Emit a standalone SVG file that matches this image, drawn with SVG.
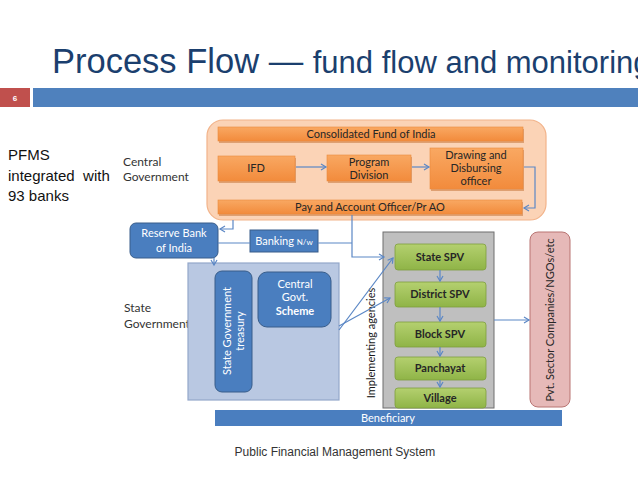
<svg xmlns="http://www.w3.org/2000/svg" width="638" height="478" viewBox="0 0 638 478">
<defs>
<linearGradient id="gOr" x1="0" y1="0" x2="0" y2="1"><stop offset="0" stop-color="#F9A862"/><stop offset="1" stop-color="#F28B3C"/></linearGradient>
<linearGradient id="gGr" x1="0" y1="0" x2="0" y2="1"><stop offset="0" stop-color="#B4D06F"/><stop offset="1" stop-color="#8FB447"/></linearGradient>
<marker id="arr" markerWidth="8" markerHeight="8" refX="6" refY="4" orient="auto" markerUnits="userSpaceOnUse"><path d="M1,1 L6,4 L1,7" fill="none" stroke="#5B87C5" stroke-width="1.2"/></marker>
<style>
.t{font-family:Lato,"Noto Sans",sans-serif;}
.dk{fill:#262626;font-size:11px;}
.wh{fill:#ffffff;font-size:11px;}
.or{fill:url(#gOr);stroke:#E98A3C;stroke-width:0.6;}
.orsh{fill:#C6773A;opacity:0.55;}
.bl{fill:#4A7EBF;stroke:#385D8A;stroke-width:1;}
.gr{fill:url(#gGr);stroke:#7F9F3E;stroke-width:0.8;}
.cn{fill:none;stroke:#5B87C5;stroke-width:1.2;}
.lbl{font-family:Lato,"Noto Sans",sans-serif;font-size:12px;fill:#333333;}
</style>
</defs>
<rect width="638" height="478" fill="#ffffff"/>
<!-- header -->
<g id="title">
<text x="52" y="73" font-family="Liberation Sans, Arial, sans-serif" fill="#1B3F6E"><tspan font-size="34.5">Process Flow — </tspan><tspan font-size="31">fund flow and monitoring</tspan></text>
</g>
<g id="header-bar">
<rect x="0" y="88" width="30" height="19" fill="#C0504D"/>
<text x="15" y="101" text-anchor="middle" font-family="Liberation Sans, Arial, sans-serif" font-size="8" font-weight="bold" fill="#ffffff">6</text>
<rect x="33" y="88" width="605" height="19" fill="#4F81BD"/>
</g>
<g id="pfms-note">
<text font-family="Liberation Sans, Arial, sans-serif" font-size="15" fill="#111111"><tspan x="8" y="160">PFMS</tspan><tspan x="8" y="181" xml:space="preserve">integrated  with</tspan><tspan x="8" y="201">93 banks</tspan></text>
</g>
<g id="label-central"><text class="lbl"><tspan x="123" y="166">Central</tspan><tspan x="123" y="181">Government</tspan></text></g>
<g id="label-state"><text class="lbl"><tspan x="124" y="312">State</tspan><tspan x="124" y="328">Government</tspan></text></g>

<!-- Central government container -->
<g id="central-government">
<rect x="207" y="120" width="339" height="100" rx="16" fill="#FBD3B6" stroke="#F2B38A" stroke-width="1.2"/>
</g>
<g id="consolidated-fund">
<rect class="orsh" x="219" y="129" width="305" height="14"/>
<rect class="or" x="218" y="127" width="305" height="14"/>
<text class="t dk" x="371" y="138" text-anchor="middle">Consolidated Fund of India</text>
</g>
<g id="ifd">
<rect class="orsh" x="219" y="158" width="77" height="25"/>
<rect class="or" x="218" y="156" width="77" height="25"/>
<text class="t dk" x="256" y="172" text-anchor="middle">IFD</text>
</g>
<g id="program-division">
<rect class="orsh" x="328" y="157" width="84" height="26"/>
<rect class="or" x="327" y="155" width="84" height="26"/>
<text class="t dk" text-anchor="middle"><tspan x="369" y="166">Program</tspan><tspan x="369" y="179">Division</tspan></text>
</g>
<g id="ddo">
<rect class="orsh" x="431" y="150" width="93" height="41"/>
<rect class="or" x="430" y="148" width="93" height="41"/>
<text class="t dk" text-anchor="middle"><tspan x="476" y="159">Drawing and</tspan><tspan x="476" y="172">Disbursing</tspan><tspan x="476" y="185">officer</tspan></text>
</g>
<g id="pao">
<rect class="orsh" x="219" y="202" width="304" height="14"/>
<rect class="or" x="218" y="200" width="304" height="14"/>
<text class="t dk" x="370" y="211" text-anchor="middle">Pay and Account Officer/Pr AO</text>
</g>

<g id="rbi">
<rect class="bl" x="130" y="223" width="88" height="35" rx="6"/>
<text class="t wh" text-anchor="middle"><tspan x="174" y="237">Reserve Bank</tspan><tspan x="174" y="252">of India</tspan></text>
</g>
<g id="banking-nw">
<rect class="bl" x="250" y="230" width="68" height="22"/>
<text class="t wh" x="284" y="245" text-anchor="middle" font-size="10">Banking <tspan font-size="8">N/w</tspan></text>
</g>

<g id="state-government">
<rect x="188" y="263" width="151" height="137" fill="#B9C8E2" stroke="#93A7CA" stroke-width="1.2"/>
</g>
<g id="state-treasury">
<rect class="bl" x="215" y="271" width="37" height="121" rx="7"/>
<text class="t wh" text-anchor="middle" transform="translate(233,331) rotate(-90)"><tspan x="0" y="-2">State Government</tspan><tspan x="0" y="11">treasury</tspan></text>
</g>
<g id="central-scheme">
<rect class="bl" x="258" y="272" width="73" height="55" rx="9"/>
<text class="t wh" text-anchor="middle"><tspan x="295" y="288">Central</tspan><tspan x="295" y="301">Govt.</tspan><tspan x="295" y="315" font-weight="bold">Scheme</tspan></text>
</g>

<g id="implementing-agencies">
<rect x="383" y="232" width="111" height="176" fill="#BFBFBF" stroke="#6F6F6F" stroke-width="1"/>
<text class="t" font-size="11" fill="#1a1a1a" text-anchor="middle" transform="translate(375,343) rotate(-90)">Implementing agencies</text>
</g>
<g id="state-spv"><rect class="gr" x="395" y="244" width="91" height="26" rx="3"/><text class="t dk" x="440" y="261" text-anchor="middle" font-weight="bold">State SPV</text></g>
<g id="district-spv"><rect class="gr" x="395" y="282" width="91" height="25" rx="3"/><text class="t dk" x="440" y="298" text-anchor="middle" font-weight="bold">District SPV</text></g>
<g id="block-spv"><rect class="gr" x="395" y="322" width="91" height="25" rx="3"/><text class="t dk" x="440" y="338" text-anchor="middle" font-weight="bold">Block SPV</text></g>
<g id="panchayat"><rect class="gr" x="395" y="357" width="91" height="23" rx="3"/><text class="t dk" x="440" y="372" text-anchor="middle" font-weight="bold">Panchayat</text></g>
<g id="village"><rect class="gr" x="395" y="388" width="91" height="20" rx="3"/><text class="t dk" x="440" y="402" text-anchor="middle" font-weight="bold">Village</text></g>

<g id="pvt-sector">
<rect x="530" y="232" width="40" height="175" rx="8" fill="#E6B9B8" stroke="#B97573" stroke-width="1"/>
<text class="t dk" text-anchor="middle" transform="translate(554,320) rotate(-90)">Pvt. Sector Companies/NGOs/etc</text>
</g>

<g id="beneficiary">
<rect x="215" y="410" width="347" height="16" fill="#4A7EBF"/>
<text class="t wh" x="388" y="422" text-anchor="middle">Beneficiary</text>
</g>

<g id="connectors">
<path class="cn" d="M296,167 L326,167" marker-end="url(#arr)"/>
<path class="cn" d="M412,167 L429,167" marker-end="url(#arr)"/>
<path class="cn" d="M524,167 L535,167 L535,208 L524,208" marker-end="url(#arr)"/>
<path class="cn" d="M233,220 L233,229 L220,229" marker-end="url(#arr)"/>
<path class="cn" d="M352,215 L352,257 L384,257" marker-end="url(#arr)"/>
<path class="cn" d="M218,243 L250,243 M318,243 L352,243"/>
<path class="cn" d="M214,258 L214,265" marker-end="url(#arr)"/>
<path class="cn" d="M339,330 L393,258" marker-end="url(#arr)"/>
<path class="cn" d="M339,326 L390,298" marker-end="url(#arr)"/>
<path class="cn" d="M440,270 L440,281" marker-end="url(#arr)"/>
<path class="cn" d="M440,307 L440,321" marker-end="url(#arr)"/>
<path class="cn" d="M440,347 L440,356" marker-end="url(#arr)"/>
<path class="cn" d="M440,380 L440,387" marker-end="url(#arr)"/>
<path class="cn" d="M494,320 L529,320" marker-end="url(#arr)"/>
</g>

<g id="caption">
<text x="335" y="456" text-anchor="middle" font-family="Liberation Sans, Arial, sans-serif" font-size="12" fill="#333333">Public Financial Management System</text>
</g>
</svg>
